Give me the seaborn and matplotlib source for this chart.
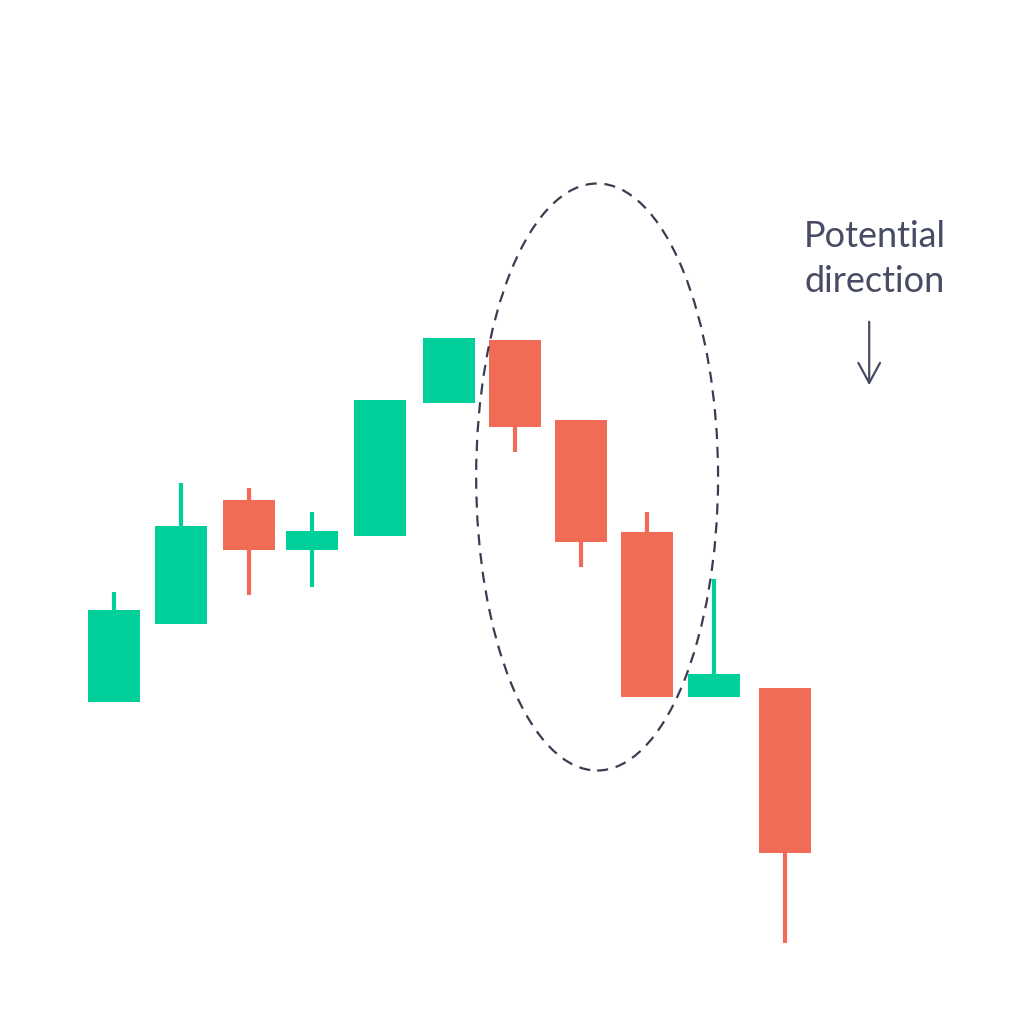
import numpy as np
import pandas as pd
import matplotlib
matplotlib.use("Agg")
import matplotlib.pyplot as plt
from matplotlib.patches import Ellipse
import seaborn as sns

# candle data (arbitrary time / price units)
pos = [0.0, 1.0, 2.01, 2.95, 3.97, 5.0, 5.99, 6.97, 7.96, 8.96, 10.01]
opens = [32.2, 40.0, 52.4, 47.4, 48.8, 62.1, 68.4, 60.4, 49.2, 32.7, 33.6]
closes = [41.4, 49.8, 47.4, 49.3, 62.4, 68.6, 59.7, 48.2, 32.7, 35.0, 17.1]
highs = [43.2, 54.1, 53.6, 51.2, 62.4, 68.6, 68.4, 60.4, 51.2, 44.5, 33.6]
lows = [32.2, 40.0, 42.9, 43.7, 48.8, 62.1, 57.2, 45.7, 32.7, 32.7, 8.1]

label = ["Potential", "direction"]

df = pd.DataFrame({"t": pos, "open": opens, "close": closes, "high": highs, "low": lows})
df["up"] = df["close"] >= df["open"]

sns.set_theme(style="white")
plt.rcParams["font.family"] = ["Lato", "DejaVu Sans"]

up_col = "#00cf9a"
down_col = "#f26b57"
ink = "#474b63"

fig = plt.figure(figsize=(10.24, 10.24), dpi=100)
ax = fig.add_axes([0, 0, 1, 1])
ax.set_xlim(-1.70, 13.58)
ax.set_ylim(0, 102.4)
ax.axis("off")

colors = [up_col if u else down_col for u in df["up"]]

# wicks
ax.vlines(df["t"], df["low"], df["high"], colors=colors, linewidth=3, zorder=1)
# bodies
bottoms = df[["open", "close"]].min(axis=1)
heights = (df["close"] - df["open"]).abs()
ax.bar(df["t"], heights, bottom=bottoms, width=0.775, color=colors,
       linewidth=0, zorder=2)

# dashed ellipse around the bearish run
ell = Ellipse((7.21, 54.7), 3.61, 58.7, fill=False, edgecolor="#3a3d52",
              linewidth=1.6, linestyle=(0, (5, 3.5)), zorder=3)
ax.add_patch(ell)

ax.text(10.30, 80.4, "\n".join(label), ha="left", va="top", fontsize=26,
        color=ink, linespacing=1.45)
ax.annotate("", xy=(11.27, 63.6), xytext=(11.27, 70.5),
            arrowprops=dict(arrowstyle="->,head_length=1.2,head_width=0.65",
                            color=ink, lw=1.6))

plt.savefig("out.png", dpi=100, facecolor="white")
